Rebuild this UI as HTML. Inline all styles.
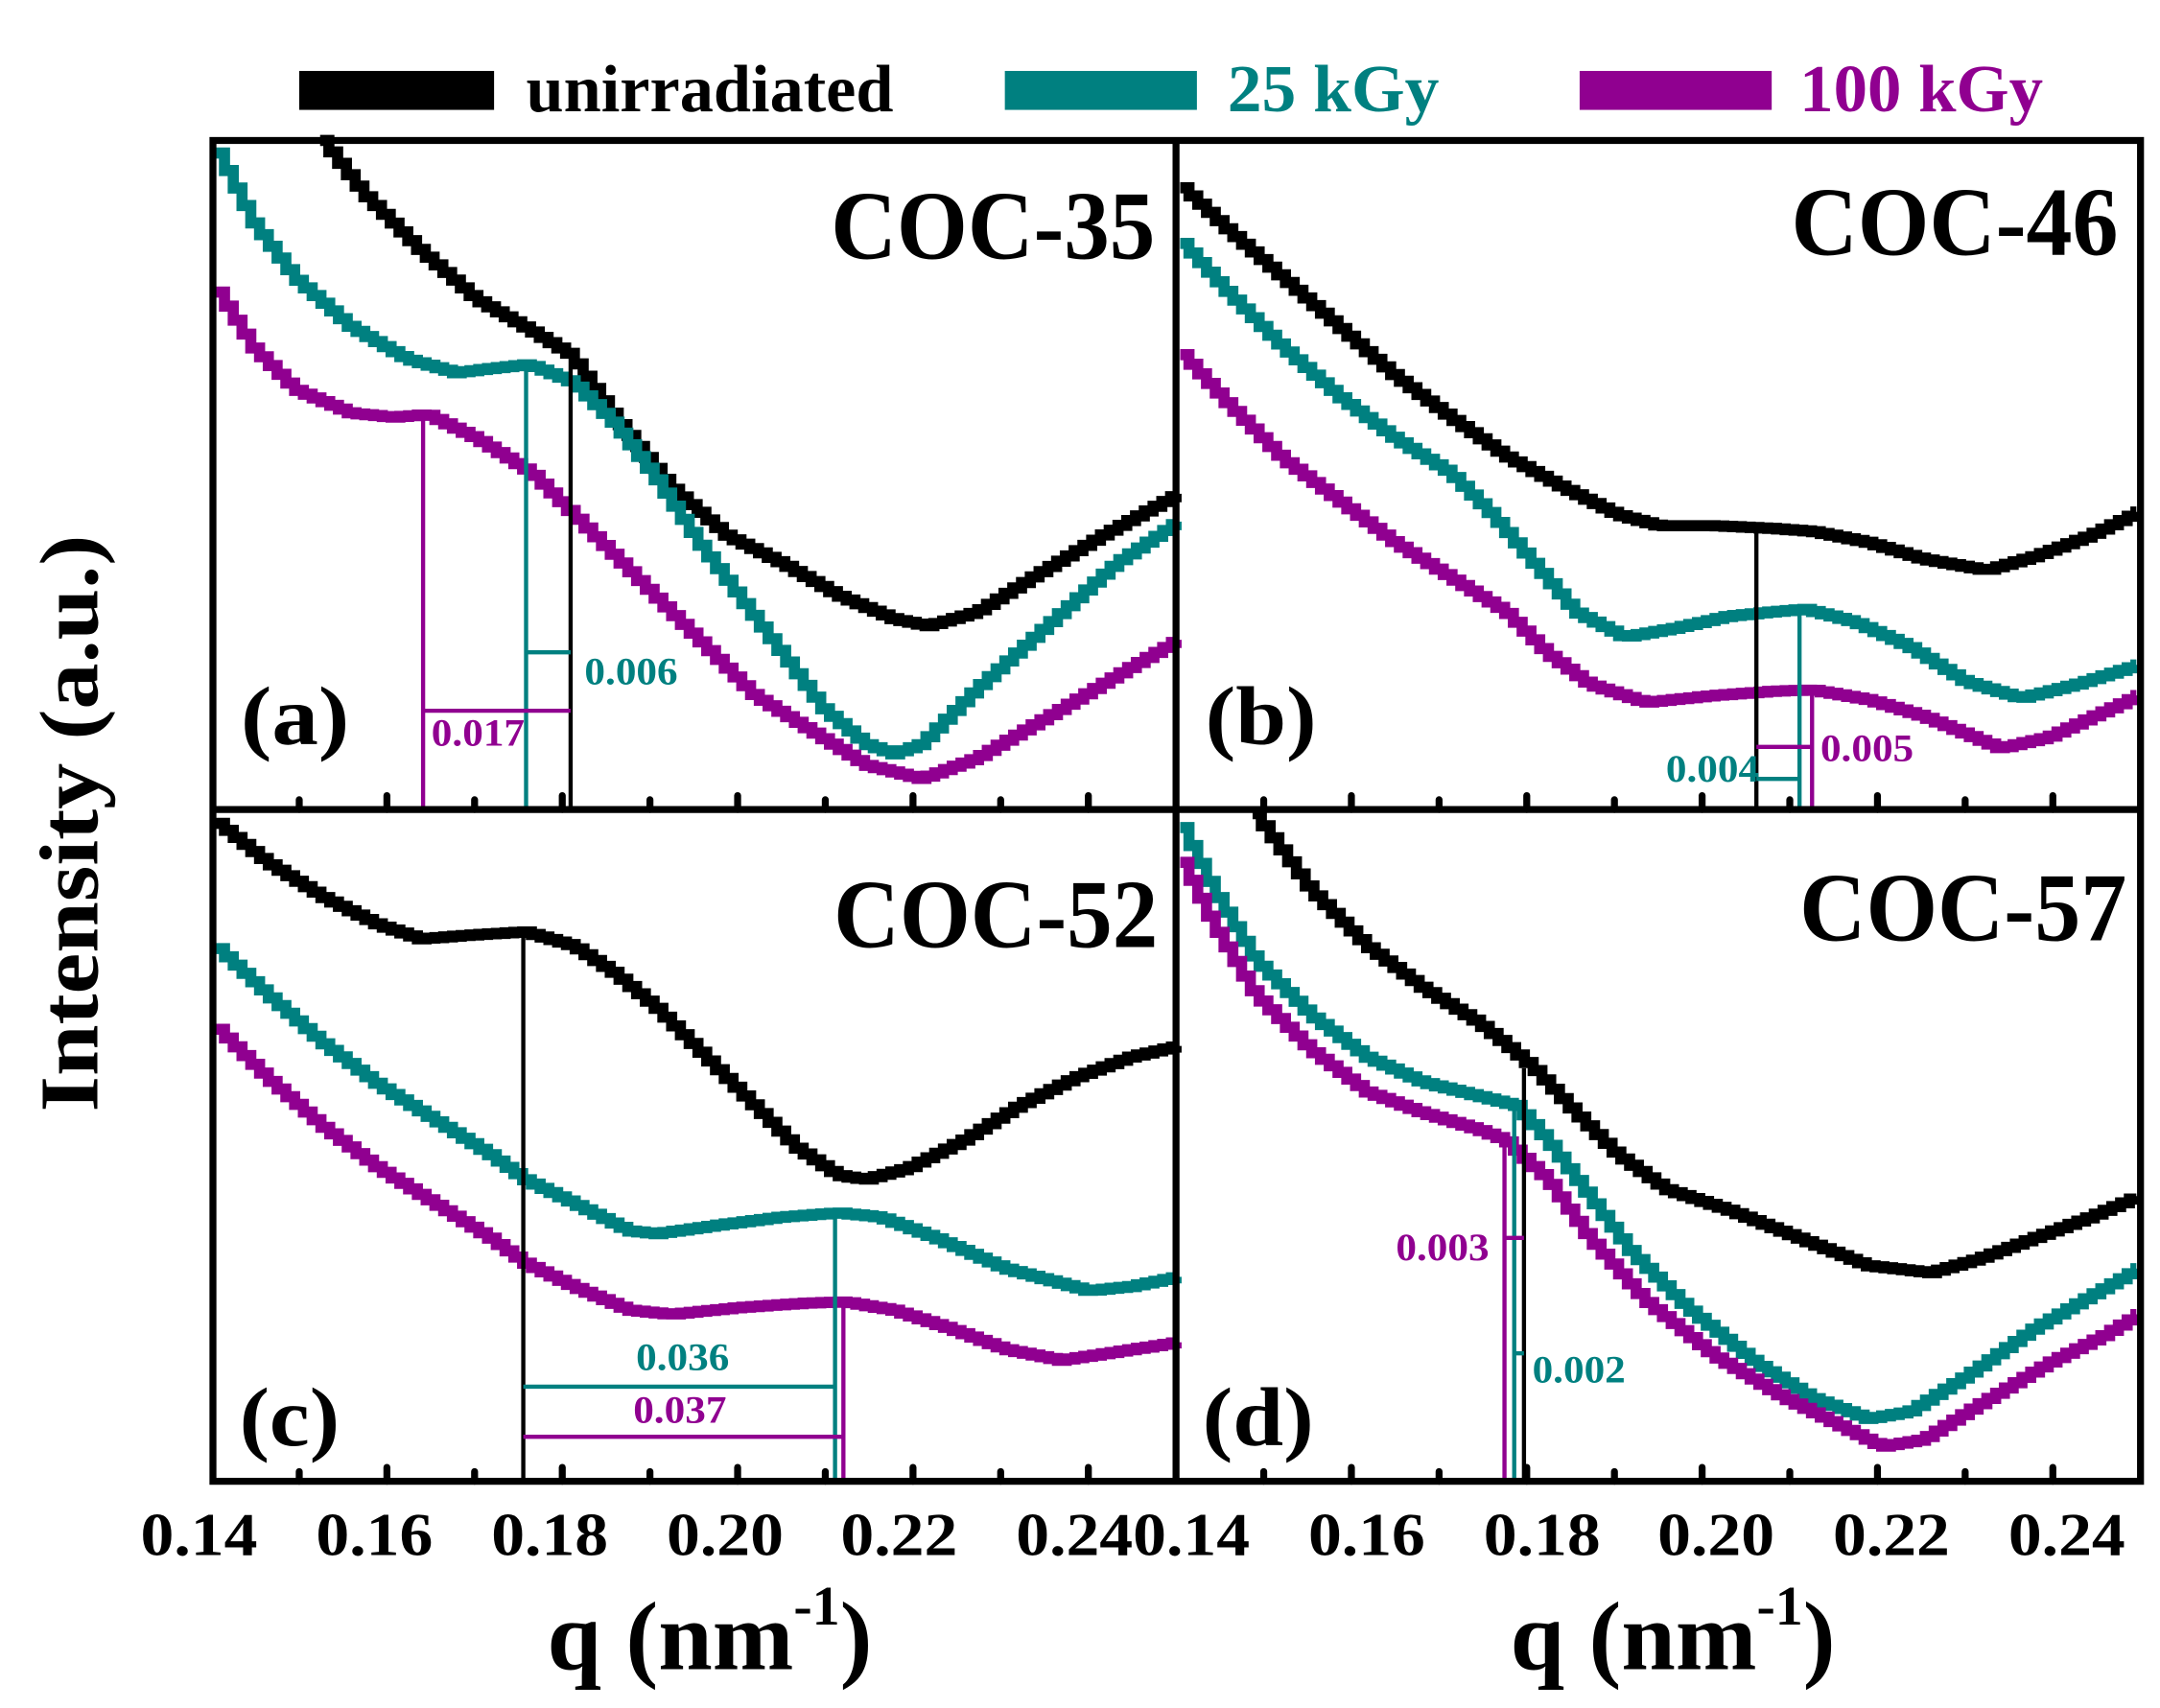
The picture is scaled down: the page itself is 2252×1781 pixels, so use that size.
<!DOCTYPE html>
<html><head><meta charset="utf-8"><style>
html,body{margin:0;padding:0;background:#fff;}
svg{display:block;}
text{font-family:"Liberation Serif",serif;font-weight:bold;}
</style></head><body>
<svg id="s" width="2252" height="1781" viewBox="0 0 1552 1228" preserveAspectRatio="none" xmlns="http://www.w3.org/2000/svg">
<rect width="1552" height="1228" fill="#fff"/>
<!-- legend -->
<rect x="215" y="51" width="140" height="28" fill="#000"/>
<text x="378" y="80" font-size="48" fill="#000" textLength="264" lengthAdjust="spacingAndGlyphs">unirradiated</text>
<rect x="722" y="51" width="138" height="28" fill="#008080"/>
<text x="882" y="80" font-size="48" fill="#008080" textLength="152" lengthAdjust="spacingAndGlyphs">25 kGy</text>
<rect x="1135" y="51" width="138" height="28" fill="#900090"/>
<text x="1293" y="80" font-size="48" fill="#900090" textLength="175" lengthAdjust="spacingAndGlyphs">100 kGy</text>
<!-- y label -->
<text transform="translate(70,592) rotate(-90)" text-anchor="middle" font-size="60" fill="#000" textLength="415" lengthAdjust="spacingAndGlyphs">Intensity (a.u.)</text>
<g id="curves"></g>
<g id="ann" stroke-width="3" fill="none">
<line x1="410" y1="255" x2="410" y2="582" stroke="#000"/>
<line x1="378" y1="262" x2="378" y2="582" stroke="#008080"/>
<line x1="304" y1="298" x2="304" y2="582" stroke="#900090"/>
<line x1="378" y1="469" x2="410" y2="469" stroke="#008080"/>
<line x1="304" y1="511" x2="410" y2="511" stroke="#900090"/>
<line x1="1262" y1="380" x2="1262" y2="582" stroke="#000"/>
<line x1="1293" y1="438" x2="1293" y2="582" stroke="#008080"/>
<line x1="1302" y1="496" x2="1302" y2="582" stroke="#900090"/>
<line x1="1262" y1="537" x2="1302" y2="537" stroke="#900090"/>
<line x1="1262" y1="560" x2="1293" y2="560" stroke="#008080"/>
<line x1="376" y1="670" x2="376" y2="1065" stroke="#000"/>
<line x1="600" y1="872" x2="600" y2="1065" stroke="#008080"/>
<line x1="606" y1="936" x2="606" y2="1065" stroke="#900090"/>
<line x1="376" y1="997" x2="600" y2="997" stroke="#008080"/>
<line x1="376" y1="1033" x2="606" y2="1033" stroke="#900090"/>
<line x1="1095" y1="768" x2="1095" y2="1065" stroke="#000"/>
<line x1="1088" y1="795" x2="1088" y2="1065" stroke="#008080"/>
<line x1="1081" y1="820" x2="1081" y2="1065" stroke="#900090"/>
<line x1="1081" y1="890" x2="1095" y2="890" stroke="#900090"/>
<line x1="1088" y1="973" x2="1095" y2="973" stroke="#008080"/>
</g>
<g font-size="28">
<text x="420" y="492" fill="#008080" textLength="67" lengthAdjust="spacingAndGlyphs">0.006</text>
<text x="310" y="536" fill="#900090" textLength="67" lengthAdjust="spacingAndGlyphs">0.017</text>
<text x="1197" y="562" fill="#008080" textLength="67" lengthAdjust="spacingAndGlyphs">0.004</text>
<text x="1308" y="547" fill="#900090" textLength="67" lengthAdjust="spacingAndGlyphs">0.005</text>
<text x="457" y="985" fill="#008080" textLength="67" lengthAdjust="spacingAndGlyphs">0.036</text>
<text x="455" y="1023" fill="#900090" textLength="67" lengthAdjust="spacingAndGlyphs">0.037</text>
<text x="1003" y="906" fill="#900090" textLength="67" lengthAdjust="spacingAndGlyphs">0.003</text>
<text x="1101" y="994" fill="#008080" textLength="67" lengthAdjust="spacingAndGlyphs">0.002</text>
</g>
<g font-size="60" fill="#000">
<text x="173" y="535" textLength="78" lengthAdjust="spacingAndGlyphs">(a)</text>
<text x="866" y="535" textLength="80" lengthAdjust="spacingAndGlyphs">(b)</text>
<text x="172" y="1039" textLength="72" lengthAdjust="spacingAndGlyphs">(c)</text>
<text x="864" y="1039" textLength="80" lengthAdjust="spacingAndGlyphs">(d)</text>
</g>
<g font-size="70" fill="#000" text-anchor="end">
<text x="830" y="186" textLength="233" lengthAdjust="spacingAndGlyphs">COC-35</text>
<text x="1522" y="183" textLength="235" lengthAdjust="spacingAndGlyphs">COC-46</text>
<text x="832" y="681" textLength="233" lengthAdjust="spacingAndGlyphs">COC-52</text>
<text x="1528" y="676" textLength="235" lengthAdjust="spacingAndGlyphs">COC-57</text>
</g>
<g id="ticks" stroke="#000" stroke-width="5" stroke-linecap="round"></g>
<g stroke="#000" stroke-width="5" fill="none">
<rect x="153" y="101" width="1385" height="964"/>
<line x1="845" y1="101" x2="845" y2="1065"/>
<line x1="153" y1="582" x2="1538" y2="582"/>
</g>
<g font-size="44" fill="#000">
<text x="101" y="1118" textLength="84" lengthAdjust="spacingAndGlyphs">0.14</text>
<text x="227" y="1118" textLength="84" lengthAdjust="spacingAndGlyphs">0.16</text>
<text x="353" y="1118" textLength="84" lengthAdjust="spacingAndGlyphs">0.18</text>
<text x="479" y="1118" textLength="84" lengthAdjust="spacingAndGlyphs">0.20</text>
<text x="604" y="1118" textLength="84" lengthAdjust="spacingAndGlyphs">0.22</text>
<text x="730" y="1118" textLength="84" lengthAdjust="spacingAndGlyphs">0.24</text>
<text x="814" y="1118" textLength="84" lengthAdjust="spacingAndGlyphs">0.14</text>
<text x="940" y="1118" textLength="84" lengthAdjust="spacingAndGlyphs">0.16</text>
<text x="1066" y="1118" textLength="84" lengthAdjust="spacingAndGlyphs">0.18</text>
<text x="1191" y="1118" textLength="84" lengthAdjust="spacingAndGlyphs">0.20</text>
<text x="1317" y="1118" textLength="84" lengthAdjust="spacingAndGlyphs">0.22</text>
<text x="1443" y="1118" textLength="84" lengthAdjust="spacingAndGlyphs">0.24</text>
</g>
<g font-size="70" fill="#000">
<text x="510" y="1200" text-anchor="middle">q (nm<tspan font-size="40" dy="-32">-1</tspan><tspan dy="32">)</tspan></text>
<text x="1202" y="1200" text-anchor="middle">q (nm<tspan font-size="40" dy="-32">-1</tspan><tspan dy="32">)</tspan></text>
</g>
</svg>
<script>
var NS="http://www.w3.org/2000/svg";
var K="#000",T="#008080",P="#900090";
var data=[
[K,[[230,101],[260,140],[300,180],[340,215],[380,238],[408,255],[440,300],[480,350],[520,385],[560,405],[600,428],[640,445],[665,450],[700,440],[740,415],[790,385],[845,355]]],
[T,[[155,110],[180,160],[210,200],[250,235],[290,258],[325,268],[350,265],[378,262],[410,275],[440,305],[470,345],[500,390],[530,430],[560,470],[590,510],[620,535],[640,542],[660,535],[700,495],[750,450],[800,405],[845,375]]],
[P,[[155,210],[180,250],[210,280],[250,297],[280,300],[305,298],[340,315],[380,340],[420,380],[460,420],[500,460],[540,500],[580,525],[620,550],[660,560],[700,545],[760,510],[810,480],[845,460]]],
[K,[[848,135],[880,165],[920,200],[960,235],[1000,270],[1040,300],[1080,328],[1120,350],[1160,370],[1190,378],[1230,378],[1272,380],[1300,382],[1340,390],[1380,402],[1425,410],[1460,400],[1500,385],[1535,368]]],
[T,[[848,175],[880,210],[920,250],[960,285],[1000,315],[1040,340],[1070,370],[1100,405],[1130,440],[1165,458],[1200,452],[1240,443],[1270,440],[1295,438],[1330,447],[1370,465],[1410,490],[1450,502],[1490,492],[1535,478]]],
[P,[[848,255],[880,290],[920,330],[960,360],[1000,390],[1040,415],[1080,440],[1110,470],[1140,492],[1180,505],[1230,500],[1272,497],[1300,496],[1340,503],[1380,515],[1435,538],[1470,530],[1535,500]]],
[K,[[155,592],[190,620],[230,645],[270,665],[300,675],[340,672],[375,670],[410,680],[440,700],[470,725],[500,755],[540,795],[570,825],[600,845],[620,848],[650,840],[690,820],[730,795],[770,775],[810,760],[845,752]]],
[T,[[155,682],[190,715],[230,750],[270,780],[310,805],[350,830],[375,848],[410,865],[450,885],[470,887],[520,880],[560,875],[600,872],[630,875],[670,890],[720,912],[780,928],[810,925],[845,918]]],
[P,[[155,740],[190,775],[230,810],[270,840],[310,865],[350,890],[375,908],[410,925],[450,942],[480,945],[530,940],[575,937],[605,936],[640,942],[680,955],[720,970],[760,978],[800,972],[845,965]]],
[K,[[900,585],[940,640],[980,680],[1020,710],[1060,735],[1085,755],[1100,768],[1130,800],[1160,830],[1195,855],[1240,870],[1290,890],[1340,910],[1385,915],[1420,905],[1460,890],[1500,875],[1535,860]]],
[T,[[848,595],[870,640],[900,690],[940,730],[980,760],[1020,778],[1060,788],[1088,795],[1110,820],[1140,860],[1170,900],[1210,940],[1260,980],[1300,1005],[1340,1020],[1370,1015],[1410,990],[1460,955],[1500,932],[1535,912]]],
[P,[[848,620],[870,665],[900,715],[940,755],[980,785],[1020,800],[1060,812],[1080,820],[1110,848],[1140,890],[1180,935],[1230,975],[1280,1005],[1320,1025],[1350,1040],[1380,1035],[1420,1010],[1470,980],[1510,960],[1535,945]]]
];
function interp(pts,x){for(var i=0;i<pts.length-1;i++){if(x<=pts[i+1][0]){var t=(x-pts[i][0])/(pts[i+1][0]-pts[i][0]);return pts[i][1]+t*(pts[i+1][1]-pts[i][1]);}}return pts[pts.length-1][1];}
var g=document.getElementById("curves");
data.forEach(function(d){var pts=d[1],x0=pts[0][0],x1=pts[pts.length-1][0],st=6.3;
var y=interp(pts,x0),s="M"+x0+","+y.toFixed(1);
for(var x=x0+st;x<x1+st;x+=st){var xx=Math.min(x,x1);s+="H"+xx.toFixed(1);y=interp(pts,xx);s+="V"+y.toFixed(1);}
var p=document.createElementNS(NS,"path");p.setAttribute("d",s);p.setAttribute("stroke",d[0]);p.setAttribute("stroke-width","8");p.setAttribute("fill","none");g.appendChild(p);});
var tk=document.getElementById("ticks");
[[152,582],[152,1065],[845,582],[845,1065]].forEach(function(b){for(var i=1;i<11;i++){var x=b[0]+i*63;var l=document.createElementNS(NS,"line");l.setAttribute("x1",x);l.setAttribute("x2",x);l.setAttribute("y1",b[1]);l.setAttribute("y2",b[1]-(i%2==0?10:7));tk.appendChild(l);}});
</script>
</body></html>
